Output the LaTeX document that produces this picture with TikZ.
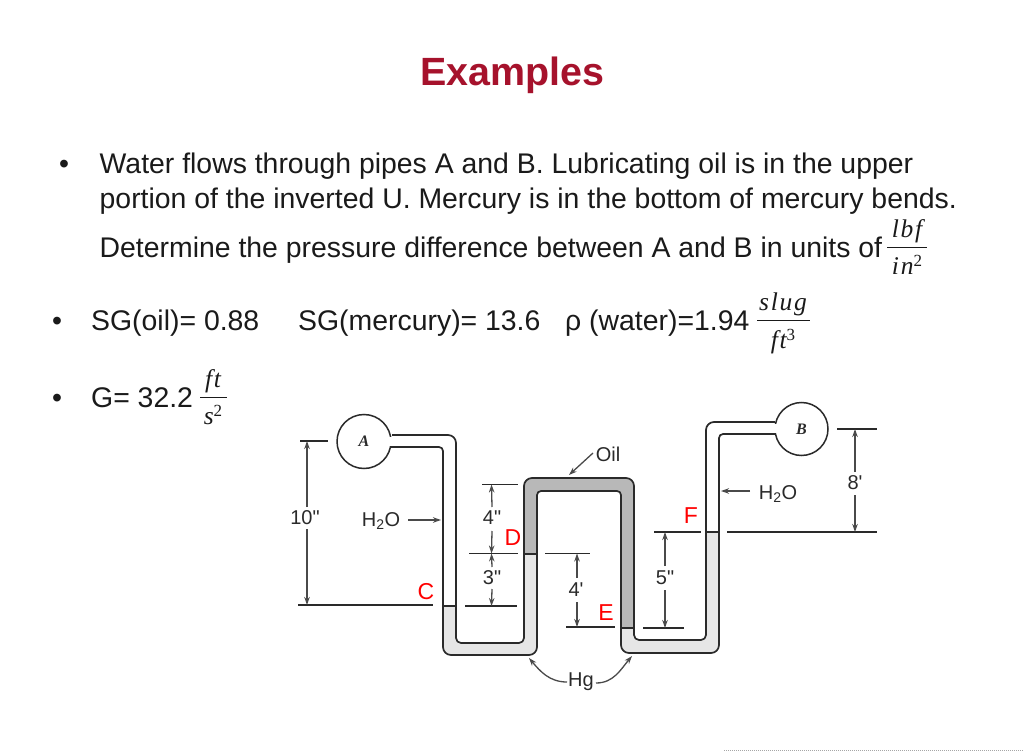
\documentclass[tikz,border=0pt]{standalone}
\usepackage{fontspec}
\setmainfont{Liberation Sans}
\newfontfamily\mathserif[LetterSpace=7]{Liberation Serif}
\newfontfamily\ballserif{Liberation Serif}
\newfontfamily\figfont{Liberation Sans}
\usetikzlibrary{arrows.meta}
\definecolor{titlered}{HTML}{A6122C}
\definecolor{ink}{HTML}{1A1A1A}
\definecolor{pipeink}{HTML}{2A2A2A}
\definecolor{oilgray}{HTML}{B8B8B8}
\definecolor{hggray}{HTML}{E6E6E6}
\newcommand{\fs}[1]{\fontsize{#1}{#1}\selectfont}
\tikzset{
  x=1pt,y=-1pt,
  bodytext/.style={anchor=base west,inner sep=0pt,text=ink,font=\fs{28.4}},
  titletext/.style={anchor=base,inner sep=0pt,text=titlered,font=\fs{39.4}\bfseries},
  mathtext/.style={anchor=base,inner sep=0pt,text=ink,font=\fs{25.5}\mathserif\itshape},
  fracbar/.style={draw=ink,line width=1.3pt},
  pipe/.style={draw=pipeink,line width=1.7pt,line join=round},
  level/.style={draw=pipeink,line width=1.4pt},
  dim/.style={draw=pipeink!85,line width=1.3pt},
  dimarrow/.style={dim,-{Stealth[length=8pt,width=5.5pt]}},
  figtext/.style={inner sep=0pt,text=pipeink,font=\fs{20}\figfont},
  ball/.style={circle,draw=pipeink,line width=1.5pt,fill=white,inner sep=0pt,minimum size=#1},
  balltext/.style={inner sep=0pt,text=pipeink,font=\fs{16}\ballserif\bfseries\itshape},
  redtext/.style={inner sep=0pt,text=red,font=\fs{23}},
}
\begin{document}
\begin{tikzpicture}
\useasboundingbox (0,0) rectangle (1024,751);
\fill[white] (0,0) rectangle (1024,751);

% title
\node[titletext] (title) at (512,86) {Examples};

% bullets and text
\node[bodytext] (b1) at (59,174) {•};
\node[bodytext] (l1) at (99.5,174) {Water flows through pipes A and B. Lubricating oil is in the upper};
\node[bodytext] (l2) at (99.5,209) {portion of the inverted U. Mercury is in the bottom of mercury bends.};
\node[bodytext] (l3) at (99.5,257) {Determine the pressure difference between A and B in units of};
\node[mathtext] (f1n) at (907,237) {lbf};
\node[mathtext] (f1d) at (907,274) {in{\upshape\fs{17}\raisebox{8pt}{2}}};
\draw[fracbar] (887,247.5) -- (927,247.5);

\node[bodytext] (b2) at (52,330) {•};
\node[bodytext] (l4) at (91,330) {SG(oil)= 0.88};
\node[bodytext] (l5) at (298,330) {SG(mercury)= 13.6};
\node[bodytext] (l6) at (565,330) {ρ (water)=1.94};
\node[mathtext] (f2n) at (783,310) {slug};
\node[mathtext] (f2d) at (783,348) {ft{\upshape\fs{17}\raisebox{8pt}{3}}};
\draw[fracbar] (757,320.5) -- (810,320.5);

\node[bodytext] (b3) at (52,407) {•};
\node[bodytext] (l7) at (91,407) {G= 32.2};
\node[mathtext] (f3n) at (213,387) {ft};
\node[mathtext] (f3d) at (213,424) {s{\upshape\fs{17}\raisebox{8pt}{2}}};
\draw[fracbar] (200,397.5) -- (227,397.5);

% fluids
\fill[hggray] (443,606) -- (456,606) -- (456,638) to[out=-90,in=180] (461,643) -- (519,643) to[out=0,in=-90] (524,638) -- (524,554) -- (537,554) -- (537,647) to[out=-90,in=0] (529,655) -- (451,655) to[out=180,in=-90] (443,647) -- cycle;
\fill[oilgray] (524,554) -- (524,486) to[out=90,in=180] (532,478) -- (626,478) to[out=0,in=90] (634,486) -- (634,628) -- (621,628) -- (621,495) to[out=90,in=0] (617,491) -- (541,491) to[out=180,in=90] (537,495) -- (537,554) -- cycle;
\fill[hggray] (621,628) -- (634,628) -- (634,635) to[out=-90,in=180] (639,640) -- (701,640) to[out=0,in=-90] (706,635) -- (706,532) -- (719,532) -- (719,645) to[out=-90,in=0] (711,653) -- (629,653) to[out=180,in=-90] (621,645) -- cycle;

% pipe walls
\draw[pipe] (392,435) -- (448,435) to[out=0,in=90] (456,443) -- (456,638) to[out=-90,in=180] (461,643) -- (519,643) to[out=0,in=-90] (524,638) -- (524,486) to[out=90,in=180] (532,478) -- (626,478) to[out=0,in=90] (634,486) -- (634,635) to[out=-90,in=180] (639,640) -- (701,640) to[out=0,in=-90] (706,635) -- (706,430) to[out=90,in=180] (714,422) -- (775,422);
\draw[pipe] (390,447) -- (439,447) to[out=0,in=90] (443,451) -- (443,647) to[out=-90,in=180] (451,655) -- (529,655) to[out=0,in=-90] (537,647) -- (537,495) to[out=90,in=180] (541,491) -- (617,491) to[out=0,in=90] (621,495) -- (621,645) to[out=-90,in=180] (629,653) -- (711,653) to[out=0,in=-90] (719,645) -- (719,438) to[out=90,in=180] (723,434) -- (775,434);
\node[ball=54pt] (A) at (364,441.5) {};
\node[balltext] at (A) {A};
\node[ball=53pt] (B) at (801.5,429) {};
\node[balltext] at (B) {B};
% open the junctions of the balls into the pipes
\draw[white,line width=9pt] (388,441) -- (394,441);
\draw[white,line width=9pt] (770,428) -- (777,428);

% fluid levels
\draw[level] (443,606) -- (456,606);
\draw[level] (524,554) -- (537,554);
\draw[level] (621,628) -- (634,628);
\draw[level] (706,532) -- (719,532);

% dimension: 10"
\draw[level] (300,441) -- (328,441);
\draw[level] (298,605) -- (433,605);
\node[figtext] (d10) at (305,518) {10"};
\coordinate (d10t) at (307,441);
\coordinate (d10b) at (307,605);
\draw[dimarrow] (d10) ++(2,-11) -- (d10t);
\draw[dimarrow] (d10) ++(2,11) -- (d10b);

% H2O left
\node[figtext] (hl) at (381,521) {H\textsubscript{2}O};
\coordinate (hle) at (441,520);
\draw[dimarrow] (hl) ++(27,-1) -- (hle);

% dimensions 4", 3"
\draw[level] (482,484.5) -- (518,484.5);
\draw[level] (469,553.5) -- (518,553.5);
\draw[level] (465,606) -- (517,606);
\node[figtext] (d4a) at (492,518) {4"};
\node[figtext] (d3) at (492,578) {3"};
\coordinate (d4at) at (491.5,484.5);
\coordinate (d4ab) at (491.5,553.5);
\coordinate (d3b) at (491.5,606);
\draw[dimarrow] (d4a) ++(0,-11) -- (d4at);
\draw[dimarrow] (d4a) ++(0,13) -- (d4ab);
\draw[dimarrow] (d3) ++(0,-11) -- (d4ab);
\draw[dimarrow] (d3) ++(0,11) -- (d3b);

% dimension 4'
\draw[level] (545,553.5) -- (590,553.5);
\draw[level] (566,627) -- (615,627);
\node[figtext] (d4b) at (576,590) {4'};
\coordinate (d4bt) at (577,553.5);
\coordinate (d4bb) at (577,627);
\draw[dimarrow] (d4b) ++(1,-12) -- (d4bt);
\draw[dimarrow] (d4b) ++(1,12) -- (d4bb);

% dimension 5"
\draw[level] (654,532) -- (701,532);
\draw[level] (643,628) -- (684,628);
\node[figtext] (d5) at (665,578) {5"};
\coordinate (d5t) at (665,532);
\coordinate (d5b) at (665,628);
\draw[dimarrow] (d5) ++(0,-12) -- (d5t);
\draw[dimarrow] (d5) ++(0,12) -- (d5b);

% dimension 8'
\draw[level] (837,429) -- (877,429);
\draw[level] (727,532) -- (877,532);
\node[figtext] (d8) at (855,483) {8'};
\coordinate (d8t) at (855,429);
\coordinate (d8b) at (855,532);
\draw[dimarrow] (d8) ++(0,-11) -- (d8t);
\draw[dimarrow] (d8) ++(0,12) -- (d8b);

% H2O right
\node[figtext] (hr) at (778,494) {H\textsubscript{2}O};
\coordinate (hre) at (721,491);
\draw[dimarrow] (hr) ++(-28,-3) -- (hre);

% Oil
\node[figtext] (oil) at (608,454) {Oil};
\coordinate (oile) at (569,475);
\draw[dimarrow] (oil) ++(-15,-1) -- (oile);

% Hg
\node[figtext] (hg) at (581,682) {Hg};
\coordinate (hgl) at (529,658);
\coordinate (hgr) at (632,656);
\draw[dimarrow] (hg) ++(-14,0) to[out=180,in=-50] (hgl);
\draw[dimarrow] (hg) ++(15,1) to[out=0,in=-130] (hgr);

% red labels
\node[redtext] (C) at (426,592) {C};
\node[redtext] (D) at (513,538) {D};
\node[redtext] (E) at (606,613) {E};
\node[redtext] (F) at (691,516) {F};

% slide edge
\draw[gray!70,line width=1pt,densely dotted] (724,750.5) -- (1024,750.5);
\end{tikzpicture}
\end{document}
